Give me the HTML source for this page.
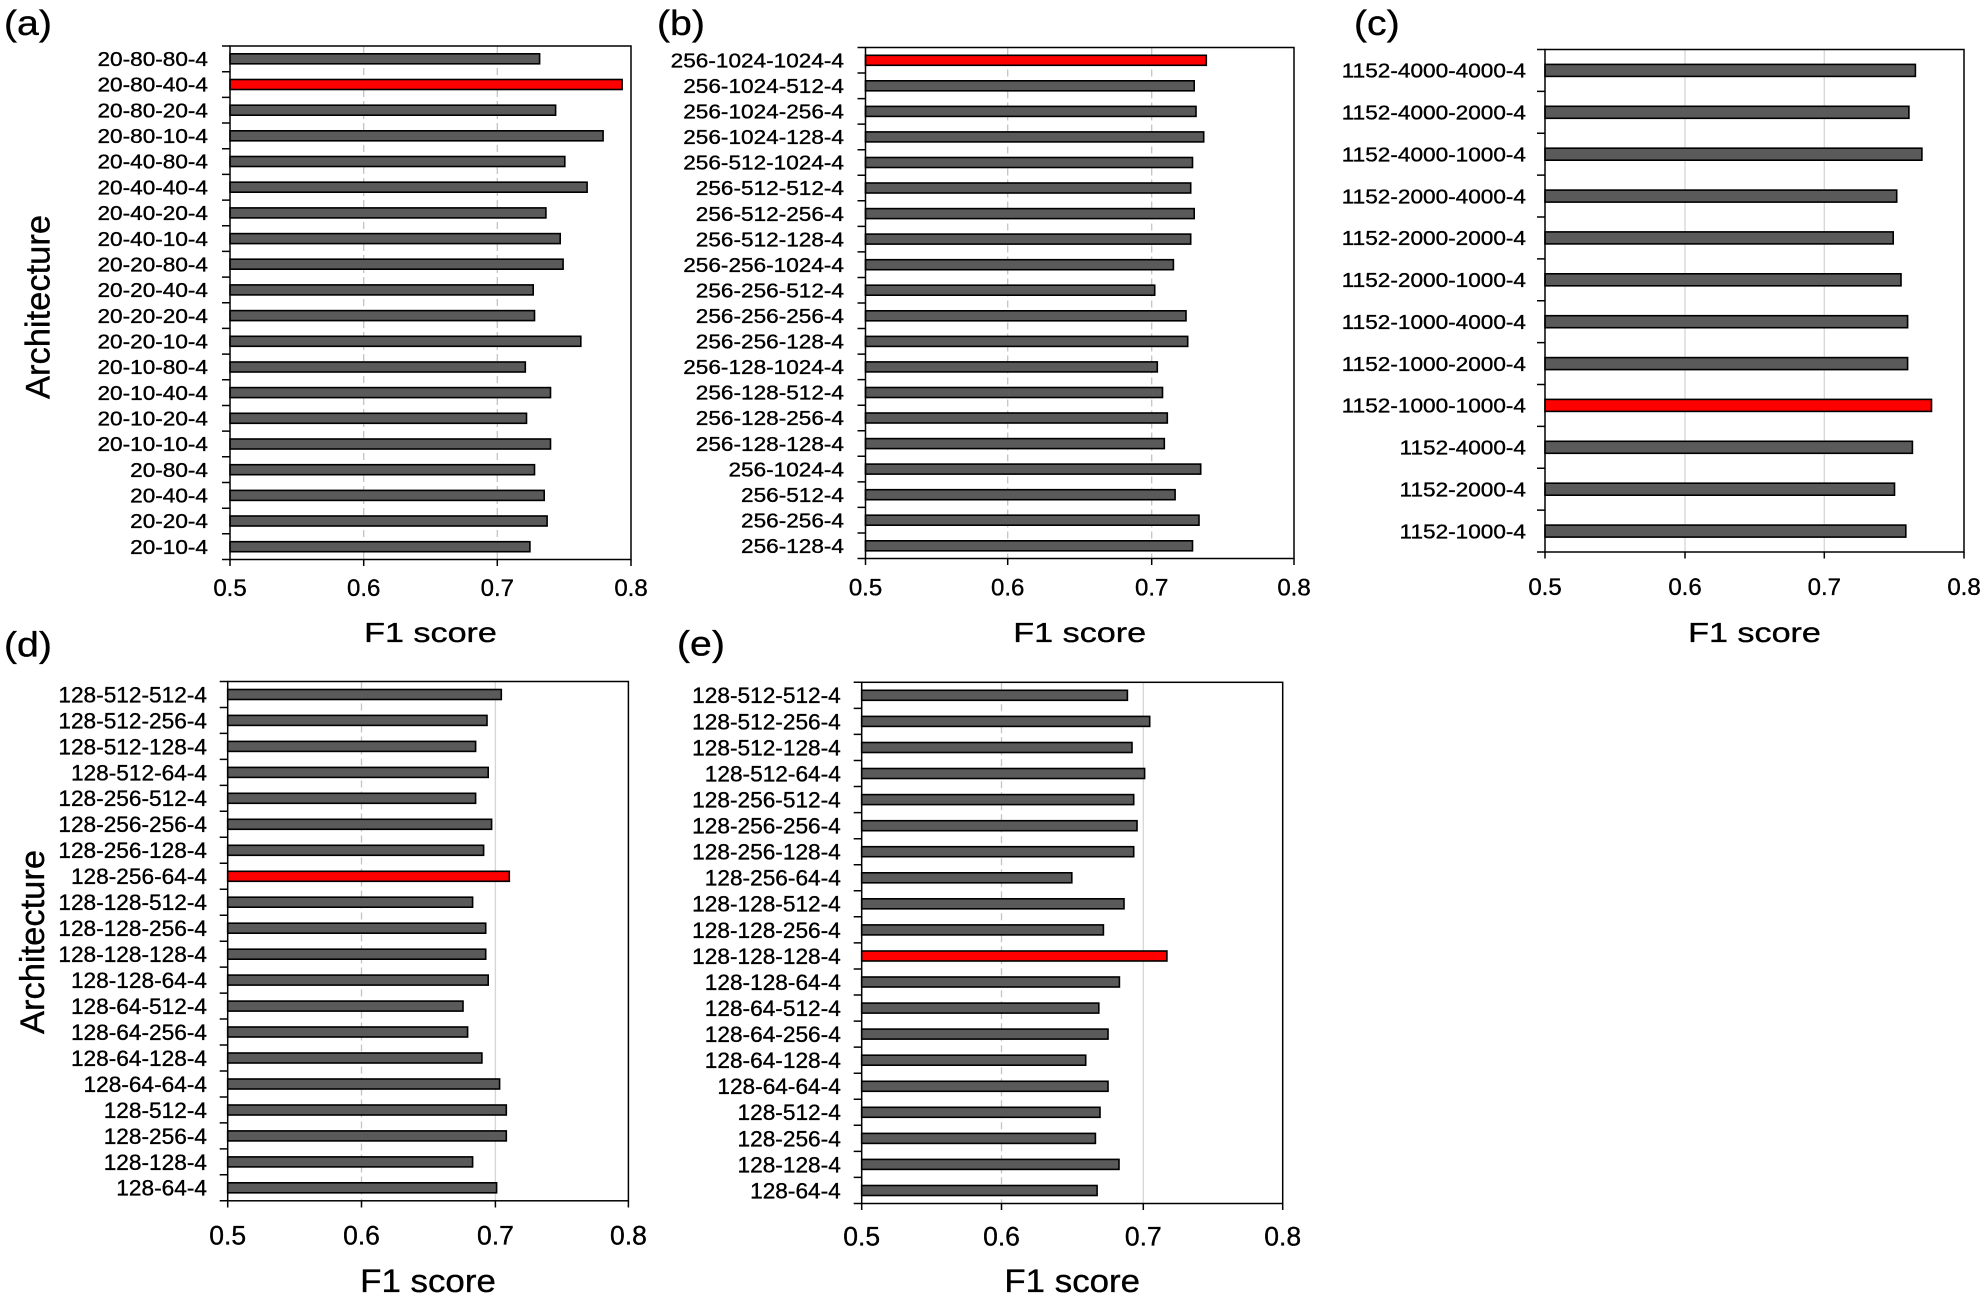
<!DOCTYPE html>
<html>
<head>
<meta charset="utf-8">
<style>
html,body{margin:0;padding:0;background:#fff;}
body{width:1983px;height:1296px;overflow:hidden;}
svg{display:block;}
text{font-family:"Liberation Sans",Arial,Helvetica,sans-serif;fill:#000;stroke:#000;stroke-width:0.35;}
.bar{fill:#5a5a5a;stroke:#000;stroke-width:1.6;}
.red{fill:#ff0000;stroke:#000;stroke-width:1.6;}
.frame{fill:none;stroke:#000;stroke-width:1.5;}
.tk{fill:none;stroke:#000;stroke-width:1.5;}
.gd{stroke:#c4c4c4;stroke-width:1.3;stroke-dasharray:7 4;}
.gs{stroke:#d6d6d6;stroke-width:1.3;}
.lt text{font-size:20px;text-anchor:end;}
.lb text{font-size:22px;text-anchor:end;}
.xt text{font-size:24px;text-anchor:middle;}
.xb text{font-size:26.5px;text-anchor:middle;}
</style>
</head>
<body>
<svg width="1983" height="1296" viewBox="0 0 1983 1296" xmlns="http://www.w3.org/2000/svg">

<!-- Panel labels -->
<text transform="translate(4,35) scale(1.12,1)" font-size="35">(a)</text>
<text transform="translate(657,35) scale(1.12,1)" font-size="35">(b)</text>
<text transform="translate(1354,35) scale(1.12,1)" font-size="35">(c)</text>
<text transform="translate(4,656.5) scale(1.12,1)" font-size="35">(d)</text>
<text transform="translate(677,655.5) scale(1.12,1)" font-size="35">(e)</text>

<!-- Axis titles -->
<text transform="translate(49.5,307) rotate(-90)" font-size="34.5" text-anchor="middle">Architecture</text>
<text transform="translate(44,942) rotate(-90)" font-size="34.5" text-anchor="middle">Architecture</text>
<text transform="translate(430.5,642) scale(1.22,1)" font-size="28" text-anchor="middle">F1 score</text>
<text transform="translate(1079.7,642) scale(1.22,1)" font-size="28" text-anchor="middle">F1 score</text>
<text transform="translate(1754.5,642) scale(1.22,1)" font-size="28" text-anchor="middle">F1 score</text>
<text transform="translate(428,1292) scale(1.09,1)" font-size="32" text-anchor="middle">F1 score</text>
<text transform="translate(1072.2,1292) scale(1.09,1)" font-size="32" text-anchor="middle">F1 score</text>

<!-- ================= Panel (a) ================= -->
<line class="gd" x1="363.7" y1="46" x2="363.7" y2="559.5"/>
<line class="gd" x1="497.3" y1="46" x2="497.3" y2="559.5"/>
<g>
<rect class="bar" x="230" y="53.8" width="309.6" height="10"/>
<rect class="red" x="230" y="79.5" width="392.1" height="10"/>
<rect class="bar" x="230" y="105.2" width="325.6" height="10"/>
<rect class="bar" x="230" y="130.8" width="373.1" height="10"/>
<rect class="bar" x="230" y="156.5" width="334.8" height="10"/>
<rect class="bar" x="230" y="182.2" width="357.1" height="10"/>
<rect class="bar" x="230" y="207.9" width="315.9" height="10"/>
<rect class="bar" x="230" y="233.6" width="330.2" height="10"/>
<rect class="bar" x="230" y="259.2" width="333.1" height="10"/>
<rect class="bar" x="230" y="284.9" width="303.2" height="10"/>
<rect class="bar" x="230" y="310.6" width="304.5" height="10"/>
<rect class="bar" x="230" y="336.3" width="350.8" height="10"/>
<rect class="bar" x="230" y="362.0" width="295.3" height="10"/>
<rect class="bar" x="230" y="387.6" width="320.5" height="10"/>
<rect class="bar" x="230" y="413.3" width="296.5" height="10"/>
<rect class="bar" x="230" y="439.0" width="320.5" height="10"/>
<rect class="bar" x="230" y="464.7" width="304.5" height="10"/>
<rect class="bar" x="230" y="490.4" width="314.2" height="10"/>
<rect class="bar" x="230" y="516.0" width="317.1" height="10"/>
<rect class="bar" x="230" y="541.7" width="299.9" height="10"/>
</g>
<rect class="frame" x="230" y="46" width="401" height="513.5"/>
<path class="tk" d="M222 46H230M222 71.7H230M222 97.4H230M222 123H230M222 148.7H230M222 174.4H230M222 200.1H230M222 225.7H230M222 251.4H230M222 277.1H230M222 302.8H230M222 328.4H230M222 354.1H230M222 379.8H230M222 405.5H230M222 431.1H230M222 456.8H230M222 482.5H230M222 508.2H230M222 533.8H230M222 559.5H230M230 559.5V566M363.7 559.5V566M497.3 559.5V566M631 559.5V566"/>
<g class="lt" transform="translate(208,0) scale(1.13,1)">
<text x="0" y="66.0">20-80-80-4</text>
<text x="0" y="91.7">20-80-40-4</text>
<text x="0" y="117.4">20-80-20-4</text>
<text x="0" y="143.0">20-80-10-4</text>
<text x="0" y="168.7">20-40-80-4</text>
<text x="0" y="194.4">20-40-40-4</text>
<text x="0" y="220.1">20-40-20-4</text>
<text x="0" y="245.8">20-40-10-4</text>
<text x="0" y="271.4">20-20-80-4</text>
<text x="0" y="297.1">20-20-40-4</text>
<text x="0" y="322.8">20-20-20-4</text>
<text x="0" y="348.5">20-20-10-4</text>
<text x="0" y="374.2">20-10-80-4</text>
<text x="0" y="399.8">20-10-40-4</text>
<text x="0" y="425.5">20-10-20-4</text>
<text x="0" y="451.2">20-10-10-4</text>
<text x="0" y="476.9">20-80-4</text>
<text x="0" y="502.6">20-40-4</text>
<text x="0" y="528.2">20-20-4</text>
<text x="0" y="553.9">20-10-4</text>
</g>
<g class="xt">
<text x="230" y="596">0.5</text>
<text x="363.7" y="596">0.6</text>
<text x="497.3" y="596">0.7</text>
<text x="631" y="596">0.8</text>
</g>

<!-- ================= Panel (b) ================= -->
<line class="gd" x1="1007.7" y1="47.5" x2="1007.7" y2="558.5"/>
<line class="gd" x1="1151.7" y1="47.5" x2="1151.7" y2="558.5"/>
<g>
<rect class="red" x="865.5" y="55.3" width="340.8" height="10"/>
<rect class="bar" x="865.5" y="80.8" width="328.7" height="10"/>
<rect class="bar" x="865.5" y="106.4" width="330.5" height="10"/>
<rect class="bar" x="865.5" y="131.9" width="338.2" height="10"/>
<rect class="bar" x="865.5" y="157.5" width="327.0" height="10"/>
<rect class="bar" x="865.5" y="183.0" width="325.2" height="10"/>
<rect class="bar" x="865.5" y="208.6" width="328.7" height="10"/>
<rect class="bar" x="865.5" y="234.1" width="325.2" height="10"/>
<rect class="bar" x="865.5" y="259.7" width="307.9" height="10"/>
<rect class="bar" x="865.5" y="285.2" width="289.2" height="10"/>
<rect class="bar" x="865.5" y="310.8" width="320.5" height="10"/>
<rect class="bar" x="865.5" y="336.4" width="322.2" height="10"/>
<rect class="bar" x="865.5" y="361.9" width="291.8" height="10"/>
<rect class="bar" x="865.5" y="387.5" width="297.0" height="10"/>
<rect class="bar" x="865.5" y="413.0" width="301.8" height="10"/>
<rect class="bar" x="865.5" y="438.6" width="298.8" height="10"/>
<rect class="bar" x="865.5" y="464.1" width="335.2" height="10"/>
<rect class="bar" x="865.5" y="489.7" width="309.6" height="10"/>
<rect class="bar" x="865.5" y="515.2" width="333.5" height="10"/>
<rect class="bar" x="865.5" y="540.8" width="327.0" height="10"/>
</g>
<rect class="frame" x="865.5" y="47.5" width="428.5" height="511"/>
<path class="tk" d="M857.5 47.5H865.5M857.5 73.05H865.5M857.5 98.6H865.5M857.5 124.15H865.5M857.5 149.7H865.5M857.5 175.25H865.5M857.5 200.8H865.5M857.5 226.35H865.5M857.5 251.9H865.5M857.5 277.45H865.5M857.5 303H865.5M857.5 328.55H865.5M857.5 354.1H865.5M857.5 379.65H865.5M857.5 405.2H865.5M857.5 430.75H865.5M857.5 456.3H865.5M857.5 481.85H865.5M857.5 507.4H865.5M857.5 532.95H865.5M857.5 558.5H865.5M865.5 558.5V565M1007.7 558.5V565M1151.7 558.5V565M1294 558.5V565"/>
<g class="lt" transform="translate(844,0) scale(1.13,1)">
<text x="0" y="67.5">256-1024-1024-4</text>
<text x="0" y="93.0">256-1024-512-4</text>
<text x="0" y="118.6">256-1024-256-4</text>
<text x="0" y="144.1">256-1024-128-4</text>
<text x="0" y="169.7">256-512-1024-4</text>
<text x="0" y="195.2">256-512-512-4</text>
<text x="0" y="220.8">256-512-256-4</text>
<text x="0" y="246.3">256-512-128-4</text>
<text x="0" y="271.9">256-256-1024-4</text>
<text x="0" y="297.4">256-256-512-4</text>
<text x="0" y="323.0">256-256-256-4</text>
<text x="0" y="348.6">256-256-128-4</text>
<text x="0" y="374.1">256-128-1024-4</text>
<text x="0" y="399.7">256-128-512-4</text>
<text x="0" y="425.2">256-128-256-4</text>
<text x="0" y="450.8">256-128-128-4</text>
<text x="0" y="476.3">256-1024-4</text>
<text x="0" y="501.9">256-512-4</text>
<text x="0" y="527.4">256-256-4</text>
<text x="0" y="553.0">256-128-4</text>
</g>
<g class="xt">
<text x="865.5" y="595.5">0.5</text>
<text x="1007.7" y="595.5">0.6</text>
<text x="1151.7" y="595.5">0.7</text>
<text x="1294" y="595.5">0.8</text>
</g>

<!-- ================= Panel (c) ================= -->
<line class="gs" x1="1685" y1="49.5" x2="1685" y2="552"/>
<line class="gs" x1="1824.3" y1="49.5" x2="1824.3" y2="552"/>
<g>
<rect class="bar" x="1545" y="64.4" width="370.4" height="12"/>
<rect class="bar" x="1545" y="106.3" width="363.9" height="12"/>
<rect class="bar" x="1545" y="148.2" width="376.9" height="12"/>
<rect class="bar" x="1545" y="190.1" width="351.7" height="12"/>
<rect class="bar" x="1545" y="231.9" width="348.2" height="12"/>
<rect class="bar" x="1545" y="273.8" width="356.0" height="12"/>
<rect class="bar" x="1545" y="315.7" width="362.6" height="12"/>
<rect class="bar" x="1545" y="357.6" width="362.6" height="12"/>
<rect class="red" x="1545" y="399.4" width="386.5" height="12"/>
<rect class="bar" x="1545" y="441.3" width="367.4" height="12"/>
<rect class="bar" x="1545" y="483.2" width="349.5" height="12"/>
<rect class="bar" x="1545" y="525.1" width="360.8" height="12"/>
</g>
<rect class="frame" x="1545" y="49.5" width="419" height="502.5"/>
<path class="tk" d="M1537 49.5H1545M1537 91.4H1545M1537 133.3H1545M1537 175.1H1545M1537 217H1545M1537 258.9H1545M1537 300.8H1545M1537 342.6H1545M1537 384.5H1545M1537 426.4H1545M1537 468.3H1545M1537 510.1H1545M1537 552H1545M1545 552V558.5M1685 552V558.5M1824.3 552V558.5M1964 552V558.5"/>
<g class="lt" transform="translate(1526,0) scale(1.13,1)">
<text x="0" y="77.6">1152-4000-4000-4</text>
<text x="0" y="119.5">1152-4000-2000-4</text>
<text x="0" y="161.4">1152-4000-1000-4</text>
<text x="0" y="203.3">1152-2000-4000-4</text>
<text x="0" y="245.1">1152-2000-2000-4</text>
<text x="0" y="287.0">1152-2000-1000-4</text>
<text x="0" y="328.9">1152-1000-4000-4</text>
<text x="0" y="370.8">1152-1000-2000-4</text>
<text x="0" y="412.6">1152-1000-1000-4</text>
<text x="0" y="454.5">1152-4000-4</text>
<text x="0" y="496.4">1152-2000-4</text>
<text x="0" y="538.3">1152-1000-4</text>
</g>
<g class="xt">
<text x="1545" y="595">0.5</text>
<text x="1685" y="595">0.6</text>
<text x="1824.3" y="595">0.7</text>
<text x="1964" y="595">0.8</text>
</g>

<!-- ================= Panel (d) ================= -->
<line class="gd" x1="361.5" y1="681.5" x2="361.5" y2="1200.8"/>
<line class="gs" x1="495.4" y1="681.5" x2="495.4" y2="1200.8"/>
<g>
<rect class="bar" x="227.7" y="689.5" width="273.6" height="10"/>
<rect class="bar" x="227.7" y="715.4" width="259.3" height="10"/>
<rect class="bar" x="227.7" y="741.4" width="247.9" height="10"/>
<rect class="bar" x="227.7" y="767.4" width="260.5" height="10"/>
<rect class="bar" x="227.7" y="793.3" width="247.9" height="10"/>
<rect class="bar" x="227.7" y="819.3" width="263.9" height="10"/>
<rect class="bar" x="227.7" y="845.3" width="255.9" height="10"/>
<rect class="red" x="227.7" y="871.3" width="281.6" height="10"/>
<rect class="bar" x="227.7" y="897.2" width="244.9" height="10"/>
<rect class="bar" x="227.7" y="923.2" width="258.0" height="10"/>
<rect class="bar" x="227.7" y="949.2" width="258.0" height="10"/>
<rect class="bar" x="227.7" y="975.1" width="260.5" height="10"/>
<rect class="bar" x="227.7" y="1001.1" width="235.3" height="10"/>
<rect class="bar" x="227.7" y="1027.0" width="239.9" height="10"/>
<rect class="bar" x="227.7" y="1053.0" width="254.2" height="10"/>
<rect class="bar" x="227.7" y="1079.0" width="271.9" height="10"/>
<rect class="bar" x="227.7" y="1105.0" width="278.6" height="10"/>
<rect class="bar" x="227.7" y="1130.9" width="278.6" height="10"/>
<rect class="bar" x="227.7" y="1156.9" width="244.9" height="10"/>
<rect class="bar" x="227.7" y="1182.8" width="268.9" height="10"/>
</g>
<rect class="frame" x="227.7" y="681.5" width="400.7" height="519.3"/>
<path class="tk" d="M219.7 681.5H227.7M219.7 707.5H227.7M219.7 733.4H227.7M219.7 759.4H227.7M219.7 785.4H227.7M219.7 811.3H227.7M219.7 837.3H227.7M219.7 863.3H227.7M219.7 889.2H227.7M219.7 915.2H227.7M219.7 941.2H227.7M219.7 967.1H227.7M219.7 993.1H227.7M219.7 1019H227.7M219.7 1045H227.7M219.7 1071H227.7M219.7 1097H227.7M219.7 1122.9H227.7M219.7 1148.9H227.7M219.7 1174.8H227.7M219.7 1200.8H227.7M227.7 1200.8V1207.5M361.5 1200.8V1207.5M495.4 1200.8V1207.5M628.4 1200.8V1207.5"/>
<g class="lb" transform="translate(207,0) scale(1.03,1)">
<text x="0" y="702.4">128-512-512-4</text>
<text x="0" y="728.3">128-512-256-4</text>
<text x="0" y="754.3">128-512-128-4</text>
<text x="0" y="780.3">128-512-64-4</text>
<text x="0" y="806.2">128-256-512-4</text>
<text x="0" y="832.2">128-256-256-4</text>
<text x="0" y="858.2">128-256-128-4</text>
<text x="0" y="884.2">128-256-64-4</text>
<text x="0" y="910.1">128-128-512-4</text>
<text x="0" y="936.1">128-128-256-4</text>
<text x="0" y="962.1">128-128-128-4</text>
<text x="0" y="988.0">128-128-64-4</text>
<text x="0" y="1014.0">128-64-512-4</text>
<text x="0" y="1039.9">128-64-256-4</text>
<text x="0" y="1065.9">128-64-128-4</text>
<text x="0" y="1091.9">128-64-64-4</text>
<text x="0" y="1117.9">128-512-4</text>
<text x="0" y="1143.8">128-256-4</text>
<text x="0" y="1169.8">128-128-4</text>
<text x="0" y="1195.7">128-64-4</text>
</g>
<g class="xb">
<text x="227.7" y="1244.5">0.5</text>
<text x="361.5" y="1244.5">0.6</text>
<text x="495.4" y="1244.5">0.7</text>
<text x="628.4" y="1244.5">0.8</text>
</g>

<!-- ================= Panel (e) ================= -->
<line class="gd" x1="1001.5" y1="682.3" x2="1001.5" y2="1203.5"/>
<line class="gs" x1="1143.3" y1="682.3" x2="1143.3" y2="1203.5"/>
<g>
<rect class="bar" x="861.7" y="690.3" width="265.7" height="10"/>
<rect class="bar" x="861.7" y="716.4" width="288.0" height="10"/>
<rect class="bar" x="861.7" y="742.5" width="270.3" height="10"/>
<rect class="bar" x="861.7" y="768.5" width="282.9" height="10"/>
<rect class="bar" x="861.7" y="794.6" width="272.0" height="10"/>
<rect class="bar" x="861.7" y="820.7" width="275.3" height="10"/>
<rect class="bar" x="861.7" y="846.7" width="272.0" height="10"/>
<rect class="bar" x="861.7" y="872.8" width="210.1" height="10"/>
<rect class="bar" x="861.7" y="898.8" width="262.3" height="10"/>
<rect class="bar" x="861.7" y="924.9" width="241.7" height="10"/>
<rect class="red" x="861.7" y="951.0" width="305.2" height="10"/>
<rect class="bar" x="861.7" y="977.0" width="257.7" height="10"/>
<rect class="bar" x="861.7" y="1003.1" width="237.1" height="10"/>
<rect class="bar" x="861.7" y="1029.1" width="246.3" height="10"/>
<rect class="bar" x="861.7" y="1055.2" width="224.0" height="10"/>
<rect class="bar" x="861.7" y="1081.3" width="246.3" height="10"/>
<rect class="bar" x="861.7" y="1107.3" width="238.3" height="10"/>
<rect class="bar" x="861.7" y="1133.4" width="233.7" height="10"/>
<rect class="bar" x="861.7" y="1159.4" width="257.3" height="10"/>
<rect class="bar" x="861.7" y="1185.5" width="235.4" height="10"/>
</g>
<rect class="frame" x="861.7" y="682.3" width="421" height="521.2"/>
<path class="tk" d="M853.7 682.3H861.7M853.7 708.4H861.7M853.7 734.4H861.7M853.7 760.5H861.7M853.7 786.5H861.7M853.7 812.6H861.7M853.7 838.7H861.7M853.7 864.7H861.7M853.7 890.8H861.7M853.7 916.8H861.7M853.7 942.9H861.7M853.7 969H861.7M853.7 995H861.7M853.7 1021.1H861.7M853.7 1047.1H861.7M853.7 1073.2H861.7M853.7 1099.3H861.7M853.7 1125.3H861.7M853.7 1151.4H861.7M853.7 1177.4H861.7M853.7 1203.5H861.7M861.7 1203.5V1210M1001.5 1203.5V1210M1143.3 1203.5V1210M1282.7 1203.5V1210"/>
<g class="lb" transform="translate(840.8,0) scale(1.03,1)">
<text x="0" y="703.2">128-512-512-4</text>
<text x="0" y="729.3">128-512-256-4</text>
<text x="0" y="755.4">128-512-128-4</text>
<text x="0" y="781.4">128-512-64-4</text>
<text x="0" y="807.5">128-256-512-4</text>
<text x="0" y="833.6">128-256-256-4</text>
<text x="0" y="859.6">128-256-128-4</text>
<text x="0" y="885.7">128-256-64-4</text>
<text x="0" y="911.7">128-128-512-4</text>
<text x="0" y="937.8">128-128-256-4</text>
<text x="0" y="963.9">128-128-128-4</text>
<text x="0" y="989.9">128-128-64-4</text>
<text x="0" y="1016.0">128-64-512-4</text>
<text x="0" y="1042.0">128-64-256-4</text>
<text x="0" y="1068.1">128-64-128-4</text>
<text x="0" y="1094.2">128-64-64-4</text>
<text x="0" y="1120.2">128-512-4</text>
<text x="0" y="1146.3">128-256-4</text>
<text x="0" y="1172.3">128-128-4</text>
<text x="0" y="1198.4">128-64-4</text>
</g>
<g class="xb">
<text x="861.7" y="1245.5">0.5</text>
<text x="1001.5" y="1245.5">0.6</text>
<text x="1143.3" y="1245.5">0.7</text>
<text x="1282.7" y="1245.5">0.8</text>
</g>

</svg>
</body>
</html>
